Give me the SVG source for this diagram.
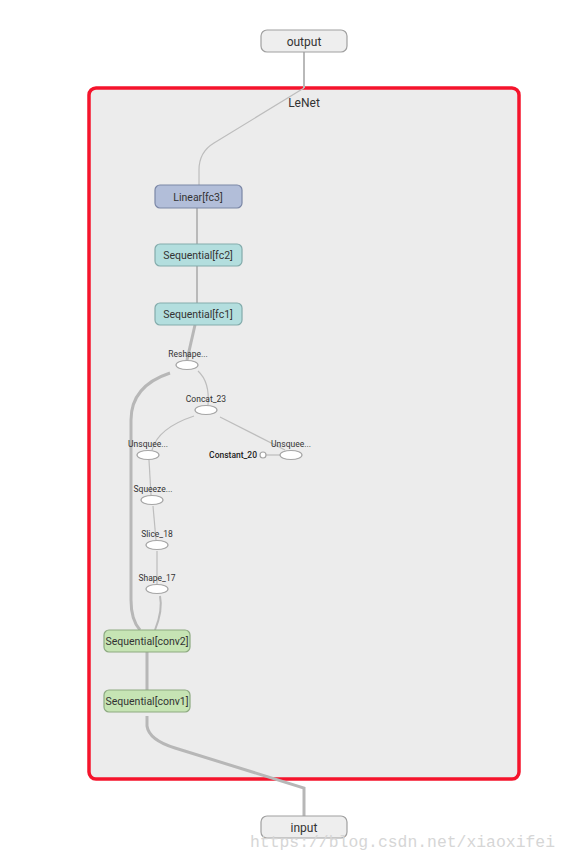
<svg xmlns="http://www.w3.org/2000/svg" width="572" height="858" viewBox="0 0 572 858">
<style>
text{font-family:Roboto,"Liberation Sans",sans-serif;fill:#333;text-anchor:middle}
.io rect{fill:#eeeeee;stroke:#a0a0a0;stroke-width:1.2}
.io text{font-size:12px}
.blue rect{fill:#b2bed9;stroke:#7b87a6;stroke-width:1.2}
.teal rect{fill:#b3dede;stroke:#83abab;stroke-width:1.2}
.green rect{fill:#c6e4b4;stroke:#8daa80;stroke-width:1.2}
.nd text{font-size:10.5px}
.op ellipse{fill:#fff;stroke:#a5a5a5;stroke-width:1.2}
.op text{font-size:8.5px}
.e{fill:none;stroke:#bdbdbd;stroke-width:1.2}
.t{fill:none;stroke:#b7b7b7;stroke-width:3}
.m{fill:none;stroke:#b9b9b9;stroke-width:2}
</style>
<rect x="0" y="0" width="572" height="858" fill="#fff"/>
<g id="LeNet">
<rect x="89" y="88" width="430" height="691" rx="7" fill="#ececec" stroke="#f5142c" stroke-width="3.5"/>
<text x="304" y="107" font-size="12">LeNet</text>
</g>
<g id="connectors">
<path class="m" d="M304 52 V88"/>
<path class="e" d="M304 88 L214 143 Q199 152 199 170 V185"/>
<path class="m" d="M197 208 V244"/>
<path class="m" d="M197 266 V303"/>
<path class="t" d="M195 325 L187 360"/>
<path class="e" d="M198 371 Q210 382 208 405"/>
<path class="t" d="M170 373 Q131 386 131 420 V600 Q131 620 140 630"/>
<path class="e" d="M194 416 Q158 428 152 450"/>
<path class="e" d="M220 417 L285 450"/>
<path class="e" d="M266 455 H280"/>
<path class="e" d="M149 460 L151 495"/>
<path class="e" d="M153 506 L156 540"/>
<path class="e" d="M157 551 V584"/>
<path class="m" d="M160 596 Q163 610 155 630"/>
<path class="t" d="M147 652 V690"/>
<path class="t" d="M147 716 V726 Q149 740 175 748 L304 788 V816"/>
</g>
<g id="output" class="io"><rect x="261" y="30" width="86" height="22" rx="6"/><text x="304" y="46">output</text></g>
<g id="input" class="io"><rect x="261" y="816" width="86" height="22" rx="6"/><text x="304" y="832">input</text></g>
<g id="Linear_fc3" class="nd blue"><rect x="155" y="185" width="87" height="23" rx="5"/><text x="198" y="201" font-size="12.5">Linear[fc3]</text></g>
<g id="Sequential_fc2" class="nd teal"><rect x="155" y="244" width="87" height="22" rx="5"/><text x="198" y="259">Sequential[fc2]</text></g>
<g id="Sequential_fc1" class="nd teal"><rect x="155" y="303" width="87" height="22" rx="5"/><text x="198" y="318">Sequential[fc1]</text></g>
<g id="Sequential_conv2" class="nd green"><rect x="104" y="630" width="86" height="22" rx="5"/><text x="147" y="645">Sequential[conv2]</text></g>
<g id="Sequential_conv1" class="nd green"><rect x="104" y="690" width="86" height="22" rx="5"/><text x="147" y="705">Sequential[conv1]</text></g>
<g id="Reshape" class="op"><ellipse cx="187" cy="365" rx="11" ry="4.5"/><text x="188" y="357">Reshape...</text></g>
<g id="Concat_23" class="op"><ellipse cx="206" cy="410" rx="11" ry="4.5"/><text x="206" y="402">Concat_23</text></g>
<g id="Unsqueeze_left" class="op"><ellipse cx="148" cy="455" rx="11" ry="4.5"/><text x="148" y="447">Unsquee...</text></g>
<g id="Unsqueeze_right" class="op"><ellipse cx="291" cy="455" rx="11" ry="4.5"/><text x="291" y="447">Unsquee...</text></g>
<g id="Constant_20" class="op"><circle cx="263" cy="455" r="3" fill="#fff" stroke="#a5a5a5" stroke-width="1.2"/><text x="257" y="458" font-size="7" style="text-anchor:end;font-weight:500;fill:#222">Constant_20</text></g>
<g id="Squeeze" class="op"><ellipse cx="152" cy="500" rx="11" ry="4.5"/><text x="153" y="492">Squeeze...</text></g>
<g id="Slice_18" class="op"><ellipse cx="157" cy="545" rx="11" ry="4.5"/><text x="157" y="537">Slice_18</text></g>
<g id="Shape_17" class="op"><ellipse cx="157" cy="589" rx="11" ry="4.5"/><text x="157" y="581">Shape_17</text></g>
<text x="250" y="847" font-size="16" textLength="305" lengthAdjust="spacingAndGlyphs" style="font-family:'Liberation Mono','DejaVu Sans Mono',monospace;fill:#d6d6d6;text-anchor:start">https://blog.csdn.net/xiaoxifei</text>
</svg>
